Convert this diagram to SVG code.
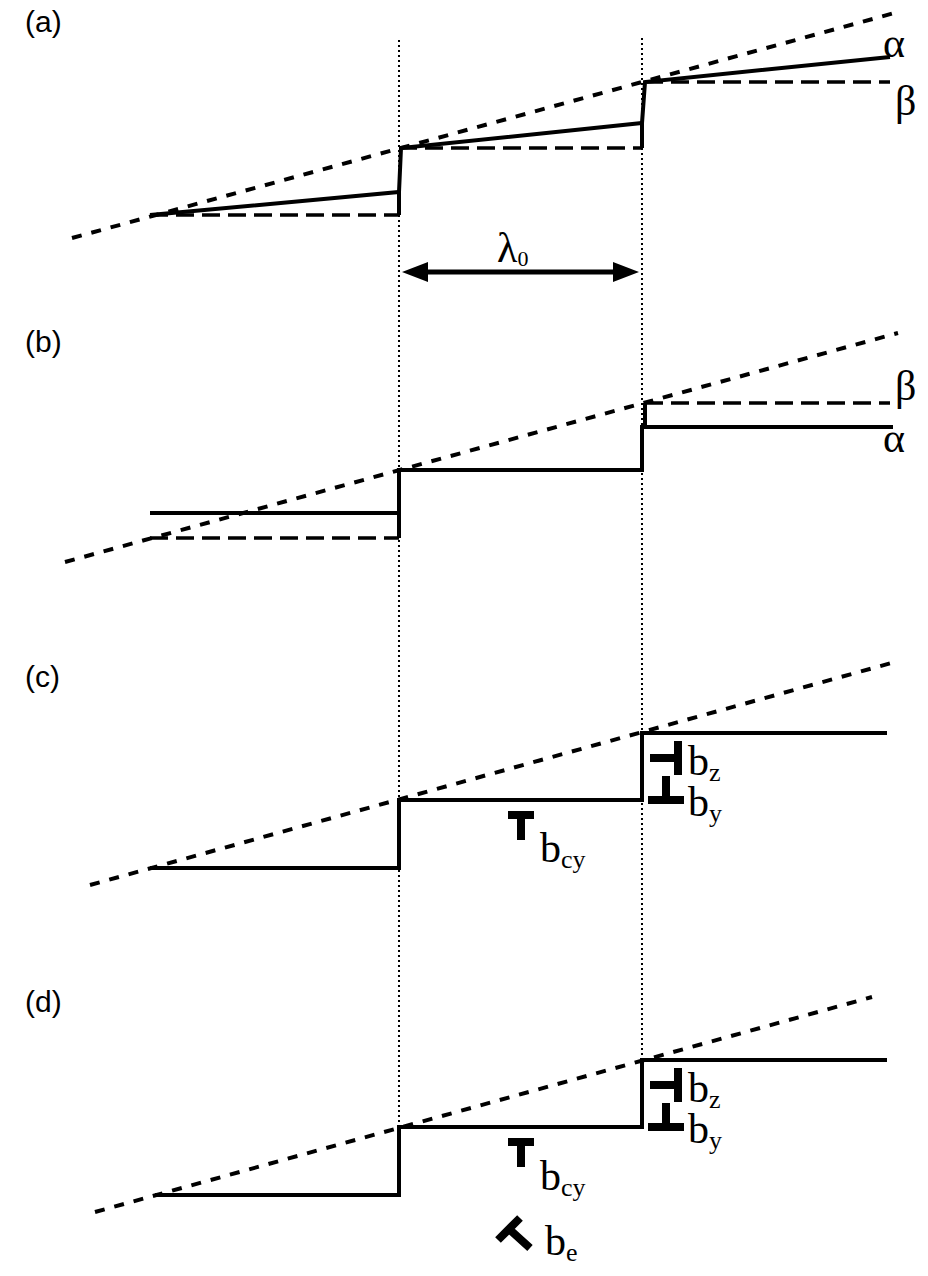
<svg xmlns="http://www.w3.org/2000/svg" width="928" height="1276" viewBox="0 0 928 1276">
<style>
.s{stroke:#000;stroke-width:4;fill:none}
.d{stroke:#000;stroke-width:3.5;fill:none;stroke-dasharray:18,8}
.dot{stroke:#000;stroke-width:4;fill:none;stroke-dasharray:10,10}
.v{stroke:#000;stroke-width:2;fill:none;stroke-dasharray:2,3}
.sym{stroke:#000;stroke-width:8;fill:none}
text{font-family:"Liberation Serif",serif;font-size:42px}
.lab{font-family:"Liberation Sans",sans-serif;font-size:30px}
</style>
<g id="guides">
<line class="v" x1="399" y1="40" x2="399" y2="1195"/>
<line class="v" x1="642" y1="38" x2="642" y2="1060"/>
</g>
<g id="panel-a">
<text class="lab" x="25" y="32">(a)</text>
<line class="dot" x1="72" y1="238" x2="898" y2="12"/>
<polyline class="s" points="150,215 399,192 399,215"/>
<polyline class="s" points="399,192 401,148 642,123 642,148"/>
<polyline class="s" points="642,123 645,82 890,57"/>
<line class="d" x1="150" y1="215" x2="399" y2="215"/>
<line class="d" x1="399" y1="148" x2="642" y2="148"/>
<line class="d" x1="645" y1="82" x2="890" y2="82"/>
<text x="883" y="57">α</text>
<text x="895" y="115">β</text>
<line stroke="#000" stroke-width="5" x1="420" y1="272" x2="621" y2="272"/>
<path d="M402,272 l26,-10 v20 z M639,272 l-26,-10 v20 z" fill="#000"/>
<text x="497" y="262">λ<tspan font-size="22" dy="4">0</tspan></text>
</g>
<g id="panel-b">
<text class="lab" x="25" y="352">(b)</text>
<line class="dot" x1="65" y1="562" x2="898" y2="333"/>
<line class="d" x1="150" y1="538" x2="399" y2="538"/>
<polyline class="s" points="150,513 399,513"/>
<polyline class="s" points="399,538 399,470 642,470 642,427 648,427 893,427"/>
<line class="d" x1="645" y1="403" x2="890" y2="403"/>
<line class="s" x1="645" y1="403" x2="645" y2="427" stroke-width="3"/>
<text x="895" y="400">β</text>
<text x="883" y="452">α</text>
</g>
<g id="panel-c">
<text class="lab" x="25" y="687">(c)</text>
<line class="dot" x1="90" y1="885" x2="895" y2="662"/>
<polyline class="s" points="150,868 399,868 399,800 642,800 642,733 887,733"/>
<path class="sym" d="M678,741 V775 M650,758 H678 M648,800 H684 M666,776 V800"/>
<text x="688" y="775">b<tspan font-size="26" dy="6">z</tspan></text>
<text x="688" y="816">b<tspan font-size="26" dy="6">y</tspan></text>
<path class="sym" d="M508,815 H534 M521,815 V840"/>
<text x="540" y="862">b<tspan font-size="26" dy="6">cy</tspan></text>
</g>
<g id="panel-d">
<text class="lab" x="25" y="1012">(d)</text>
<line class="dot" x1="95" y1="1212" x2="872" y2="997"/>
<polyline class="s" points="155,1195 399,1195 399,1127 642,1127 642,1060 887,1060"/>
<path class="sym" d="M678,1068 V1102 M650,1085 H678 M648,1127 H684 M666,1103 V1127"/>
<text x="688" y="1102">b<tspan font-size="26" dy="6">z</tspan></text>
<text x="688" y="1143">b<tspan font-size="26" dy="6">y</tspan></text>
<path class="sym" d="M508,1142 H534 M521,1142 V1167"/>
<text x="540" y="1190">b<tspan font-size="26" dy="6">cy</tspan></text>
<path class="sym" d="M498,1240 L520,1218 M509,1229 L530,1248"/>
<text x="545" y="1255">b<tspan font-size="26" dy="6">e</tspan></text>
</g>
</svg>
